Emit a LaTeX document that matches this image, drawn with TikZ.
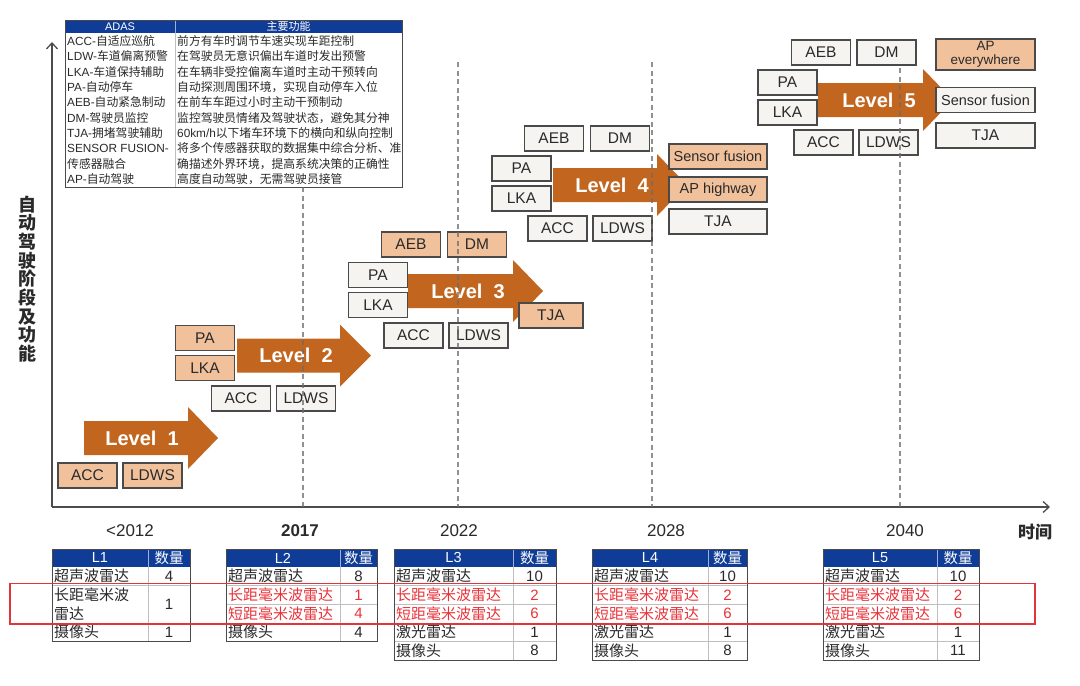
\documentclass[tikz,border=0pt]{standalone}
\usepackage{fontspec}
\setmainfont{Liberation Sans}
\newfontfamily\cjk{Noto Sans CJK SC}
\usetikzlibrary{arrows.meta}
\definecolor{arrowcol}{HTML}{C2661F}
\definecolor{peach}{HTML}{F1C19C}
\definecolor{offwhite}{HTML}{F6F4F1}
\definecolor{boxline}{HTML}{4A4A4A}
\definecolor{hdrblue}{HTML}{0F3C97}
\definecolor{hlred}{HTML}{E0353A}
\definecolor{txtred}{HTML}{E8333A}
\definecolor{txt}{HTML}{2A2A2A}
\newcommand\levelarrow[4]{%
  \fill[arrowcol] (#1,#2-17) -- (#3,#2-17) -- (#3,#2-31) -- (#4,#2) -- (#3,#2+31) -- (#3,#2+17) -- (#1,#2+17) -- cycle;}
\newcommand\srow[9]{%
  \node[tlab, text=#9] (#1l) at (#2+2,{(#5+#6)/2}) {#7};
  \node[tnum, text=#9] (#1n) at ({(#3+#4)/2},{(#5+#6)/2}) {#8};
  \draw[gridline] (#2,#6) -- (#4,#6);}
\newcommand\sframe[7]{%
  \fill[hdrblue] (#2,#5) rectangle (#4,#5+18);
  \node[thdr] (#1h) at ({(#2+#3)/2},#5+9) {#7};
  \node[thdr, font=\cjk\fontsize{14.5}{15}\selectfont] (#1q) at ({(#3+#4)/2},#5+9) {数量};
  \draw[gridline] (#3,#5+18) -- (#3,#6);
  \draw[draw=white!60!hdrblue, line width=0.6pt] (#3,#5) -- (#3,#5+18);
  \draw[frameline] (#2,#5) rectangle (#4,#6);}
\begin{document}
\begin{tikzpicture}[x=1pt,y=-1pt,
  box/.style={draw=boxline, line width=1.2pt, minimum width=59pt, minimum height=25pt, inner sep=0pt, text=txt, font=\fontsize{15.5}{16}\selectfont},
  obox/.style={box, fill=peach},
  wbox/.style={box, fill=offwhite},
  lvl/.style={text=white, inner sep=0pt, font=\bfseries\fontsize{20}{20}\selectfont},
  yearlab/.style={inner sep=0pt, text=txt, font=\fontsize{17}{17}\selectfont},
  adas/.style={anchor=west, inner sep=0pt, text=txt, font=\fontsize{11.8}{12}\selectfont},
  adashdr/.style={inner sep=0pt, text=white, font=\fontsize{11}{12}\selectfont},
  tlab/.style={anchor=west, inner sep=0pt, font=\cjk\fontsize{15}{17}\selectfont},
  tnum/.style={inner sep=0pt, font=\fontsize{15}{17}\selectfont},
  thdr/.style={inner sep=0pt, text=white, font=\fontsize{14.5}{15}\selectfont},
  gridline/.style={draw=gray!50, line width=0.5pt},
  frameline/.style={draw=boxline, line width=1pt},
  dashline/.style={draw=gray!85!black, line width=1.1pt, dash pattern=on 5pt off 3.5pt},
  axisline/.style={draw=gray!60!black, line width=1.3pt, -{Straight Barb[length=6pt,width=11pt]}}
]
\useasboundingbox (0,0) rectangle (1080,686);
\fill[white] (0,0) rectangle (1080,686);

% axes
\coordinate (origin) at (52,507);
\coordinate (ytop) at (52,42);
\coordinate (xend) at (1050,507);
\draw[axisline] (origin) -- (ytop);
\draw[axisline] (origin) -- (xend);
\node[inner sep=0pt, align=center, text=txt, font=\cjk\bfseries\fontsize{18}{18.7}\selectfont] (ylab) at (27.5,279) {自\\动\\驾\\驶\\阶\\段\\及\\功\\能};

% ADAS table
\fill[hdrblue] (65,20) rectangle (402,33);
\node[adashdr] (adash1) at (120,26.5) {ADAS};
\node[adashdr, font=\cjk\fontsize{11}{12}\selectfont] (adash2) at (288.5,26.5) {主要功能};
\draw[gridline] (175,33) -- (175,187);
\draw[draw=white!60!hdrblue, line width=0.6pt] (175,20) -- (175,33);
\node[adas] (a1l) at (67,40.7) {ACC-{\cjk 自适应巡航}};
\node[adas] (a2l) at (67,56.1) {LDW-{\cjk 车道偏离预警}};
\node[adas] (a3l) at (67,71.5) {LKA-{\cjk 车道保持辅助}};
\node[adas] (a4l) at (67,86.9) {PA-{\cjk 自动停车}};
\node[adas] (a5l) at (67,102.3) {AEB-{\cjk 自动紧急制动}};
\node[adas] (a6l) at (67,117.7) {DM-{\cjk 驾驶员监控}};
\node[adas] (a7l) at (67,133.1) {TJA-{\cjk 拥堵驾驶辅助}};
\node[adas] (a8l) at (67,148.5) {SENSOR FUSION-};
\node[adas] (a9l) at (67,163.9) {\cjk 传感器融合};
\node[adas] (a10l) at (67,179.3) {AP-{\cjk 自动驾驶}};
\node[adas] (a1r) at (177,40.7) {\cjk 前方有车时调节车速实现车距控制};
\node[adas] (a2r) at (177,56.1) {\cjk 在驾驶员无意识偏出车道时发出预警};
\node[adas] (a3r) at (177,71.5) {\cjk 在车辆非受控偏离车道时主动干预转向};
\node[adas] (a4r) at (177,86.9) {\cjk 自动探测周围环境，实现自动停车入位};
\node[adas] (a5r) at (177,102.3) {\cjk 在前车车距过小时主动干预制动};
\node[adas] (a6r) at (177,117.7) {\cjk 监控驾驶员情绪及驾驶状态，避免其分神};
\node[adas] (a7r) at (177,133.1) {60km/h{\cjk 以下堵车环境下的横向和纵向控制}};
\node[adas] (a8r) at (177,148.5) {\cjk 将多个传感器获取的数据集中综合分析、准};
\node[adas] (a9r) at (177,163.9) {\cjk 确描述外界环境，提高系统决策的正确性};
\node[adas] (a10r) at (177,179.3) {\cjk 高度自动驾驶，无需驾驶员接管};
\draw[frameline] (65,20) rectangle (402,187);

% level arrows
\levelarrow{84}{438}{188}{218}
\levelarrow{237}{355.5}{340}{371}
\levelarrow{408}{291}{513}{543}
\levelarrow{553}{185}{657}{687}
\levelarrow{818}{100}{923}{953}
\node[lvl] (lv1) at (142,438) {Level~~1};
\node[lvl] (lv2) at (296,355.5) {Level~~2};
\node[lvl] (lv3) at (468,291) {Level~~3};
\node[lvl] (lv4) at (612,185) {Level~~4};
\node[lvl] (lv5) at (879,100) {Level~~5};

% Level 1 boxes
\node[obox] (b1acc) at (87.5,475.5) {ACC};
\node[obox] (b1ldws) at (152.5,475.5) {LDWS};
% Level 2 boxes
\node[obox] (b2pa) at (205,338) {PA};
\node[obox] (b2lka) at (205,368) {LKA};
\node[wbox] (b2acc) at (241,398.5) {ACC};
\node[wbox] (b2ldws) at (306,398.5) {LDWS};
% Level 3 boxes
\node[obox] (b3aeb) at (411,244.5) {AEB};
\node[obox] (b3dm) at (477,244.5) {DM};
\node[wbox] (b3pa) at (378,275) {PA};
\node[wbox] (b3lka) at (378,305) {LKA};
\node[obox, minimum width=64pt] (b3tja) at (551,315.5) {TJA};
\node[wbox] (b3acc) at (413.5,335.5) {ACC};
\node[wbox] (b3ldws) at (478.5,335.5) {LDWS};
% Level 4 boxes
\node[wbox] (b4aeb) at (554,138.5) {AEB};
\node[wbox] (b4dm) at (620,138.5) {DM};
\node[wbox] (b4pa) at (521.5,168.5) {PA};
\node[wbox] (b4lka) at (521.5,198.5) {LKA};
\node[obox, minimum width=98pt, font=\fontsize{14.5}{15}\selectfont] (b4sf) at (718,156.5) {Sensor fusion};
\node[obox, minimum width=98pt, font=\fontsize{14.5}{15}\selectfont] (b4ap) at (718,189.5) {AP highway};
\node[wbox, minimum width=98pt] (b4tja) at (718,221.5) {TJA};
\node[wbox] (b4acc) at (557.5,228.5) {ACC};
\node[wbox] (b4ldws) at (622.5,228.5) {LDWS};
% Level 5 boxes
\node[wbox] (b5aeb) at (821,52.5) {AEB};
\node[wbox] (b5dm) at (886.5,52.5) {DM};
\node[wbox] (b5pa) at (787.5,82.5) {PA};
\node[wbox] (b5lka) at (787.5,112.5) {LKA};
\node[obox, minimum width=99pt, minimum height=31pt, align=center, font=\fontsize{13.5}{14.5}\selectfont] (b5ap) at (985.5,54.5) {AP\\everywhere};
\node[wbox, minimum width=99pt, font=\fontsize{14.5}{15}\selectfont] (b5sf) at (985.5,100) {Sensor fusion};
\node[wbox, minimum width=99pt] (b5tja) at (985.5,135.5) {TJA};
\node[wbox] (b5acc) at (823.5,142.5) {ACC};
\node[wbox] (b5ldws) at (888.5,142.5) {LDWS};

% dashed year lines
\coordinate (d1t) at (303,187); \coordinate (d1b) at (303,507);
\coordinate (d2t) at (458,62);  \coordinate (d2b) at (458,507);
\coordinate (d3t) at (652,62);  \coordinate (d3b) at (652,507);
\coordinate (d4t) at (900,68);  \coordinate (d4b) at (900,507);
\draw[dashline, opacity=0.75] (d1t) -- (d1b);
\draw[dashline, opacity=0.75] (d2t) -- (d2b);
\draw[dashline, opacity=0.75] (d3t) -- (d3b);
\draw[dashline, opacity=0.75] (d4t) -- (d4b);

% years
\node[yearlab] (yr1) at (130,531) {<2012};
\node[yearlab, font=\bfseries\fontsize{17}{17}\selectfont] (yr2) at (300,531) {2017};
\node[yearlab] (yr3) at (459,531) {2022};
\node[yearlab] (yr4) at (666,531) {2028};
\node[yearlab] (yr5) at (905,531) {2040};
\node[yearlab, font=\cjk\bfseries\fontsize{17}{17}\selectfont] (timelab) at (1035,532) {时间};

% L1 table
\srow{tA1}{52}{148}{190}{567}{585.6}{超声波雷达}{4}{txt}
\node[tlab, text=txt, align=left, font=\cjk\fontsize{15}{19}\selectfont] (tA2l) at (54,604.2) {长距毫米波\\雷达};
\node[tnum, text=txt] (tA2n) at (169,604.2) {1};
\draw[gridline] (52,622.8) -- (190,622.8);
\srow{tA3}{52}{148}{190}{622.8}{641.4}{摄像头}{1}{txt}
\sframe{tA}{52}{148}{190}{549}{641.4}{L1}
% L2 table
\srow{tB1}{226}{340}{377}{567}{585.6}{超声波雷达}{8}{txt}
\srow{tB2}{226}{340}{377}{585.6}{604.2}{长距毫米波雷达}{1}{txtred}
\srow{tB3}{226}{340}{377}{604.2}{622.8}{短距毫米波雷达}{4}{txtred}
\srow{tB4}{226}{340}{377}{622.8}{641.4}{摄像头}{4}{txt}
\sframe{tB}{226}{340}{377}{549}{641.4}{L2}
% L3 table
\srow{tC1}{394}{513}{556}{567}{585.6}{超声波雷达}{10}{txt}
\srow{tC2}{394}{513}{556}{585.6}{604.2}{长距毫米波雷达}{2}{txtred}
\srow{tC3}{394}{513}{556}{604.2}{622.8}{短距毫米波雷达}{6}{txtred}
\srow{tC4}{394}{513}{556}{622.8}{641.4}{激光雷达}{1}{txt}
\srow{tC5}{394}{513}{556}{641.4}{660}{摄像头}{8}{txt}
\sframe{tC}{394}{513}{556}{549}{660}{L3}
% L4 table
\srow{tD1}{592}{708}{747}{567}{585.6}{超声波雷达}{10}{txt}
\srow{tD2}{592}{708}{747}{585.6}{604.2}{长距毫米波雷达}{2}{txtred}
\srow{tD3}{592}{708}{747}{604.2}{622.8}{短距毫米波雷达}{6}{txtred}
\srow{tD4}{592}{708}{747}{622.8}{641.4}{激光雷达}{1}{txt}
\srow{tD5}{592}{708}{747}{641.4}{660}{摄像头}{8}{txt}
\sframe{tD}{592}{708}{747}{549}{660}{L4}
% L5 table
\srow{tE1}{823}{937}{979}{567}{585.6}{超声波雷达}{10}{txt}
\srow{tE2}{823}{937}{979}{585.6}{604.2}{长距毫米波雷达}{2}{txtred}
\srow{tE3}{823}{937}{979}{604.2}{622.8}{短距毫米波雷达}{6}{txtred}
\srow{tE4}{823}{937}{979}{622.8}{641.4}{激光雷达}{1}{txt}
\srow{tE5}{823}{937}{979}{641.4}{660}{摄像头}{11}{txt}
\sframe{tE}{823}{937}{979}{549}{660}{L5}

% red highlight
\coordinate (hl1) at (10,583.5);
\coordinate (hl2) at (1035,624);
\draw[hlred, line width=1.8pt] (hl1) rectangle (hl2);
\end{tikzpicture}
\end{document}
